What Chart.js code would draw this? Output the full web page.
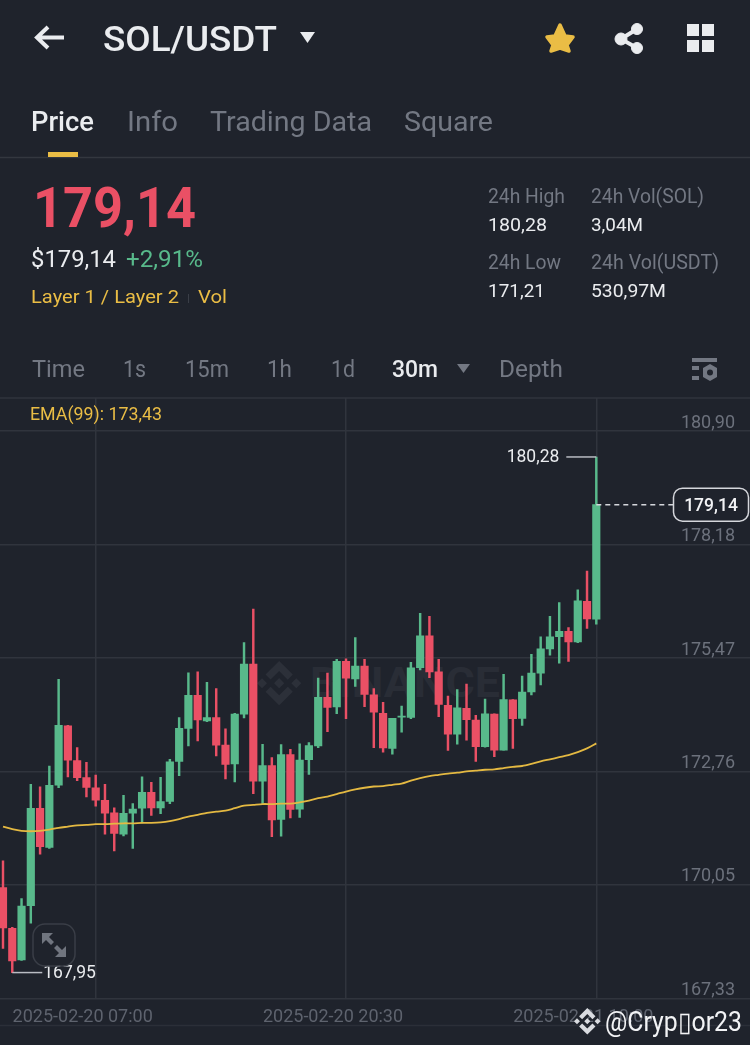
<!DOCTYPE html>
<html>
<head>
<meta charset="utf-8">
<script src="https://cdn.jsdelivr.net/npm/chart.js@4/dist/chart.umd.min.js"></script>
<style>
  html, body { margin: 0; padding: 0; background: #1f232c; }
  body { position: relative; width: 750px; height: 1045px; overflow: hidden; font-family: Roboto, sans-serif; }
  svg { position: absolute; left: 0; top: 0; }
  #grafico { position: absolute; left: 0; top: 398px; }
</style>
</head>
<body>
<!-- capa de fondo: marca de agua y lineas fijas -->
<svg width="750" height="1045">
  <line x1="0" y1="157.5" x2="750" y2="157.5" stroke="#33373f" stroke-width="1.5"/>
  <line x1="0" y1="398" x2="750" y2="398" stroke="#30343d" stroke-width="1.5"/>
  <line x1="0" y1="1025.5" x2="750" y2="1025.5" stroke="#2b2f38" stroke-width="1.5"/>
  <g transform="translate(257,661) scale(0.35)" fill="#2c3039">
    <path d="M38.73 53.2l24.59-24.58 24.6 24.6 14.3-14.31L63.32 0 24.42 38.9zM0 63.31l14.3-14.31 14.31 14.31-14.31 14.3zM38.73 73.41l24.59 24.59 24.6-24.6 14.31 14.29-38.9 38.91-38.91-38.88zM98 63.31l14.3-14.3 14.31 14.3-14.31 14.31zM77.83 63.3L63.32 48.78 52.59 59.51l-1.24 1.23-2.54 2.54 14.51 14.5 14.51-14.47z"/>
  </g>
  <text x="310" y="697" font-size="42" font-weight="700" fill="#292d36" textLength="190" lengthAdjust="spacingAndGlyphs">BINANCE</text>
</svg>

<canvas id="grafico" width="750" height="628" style="width:750px;height:628px"></canvas>

<!-- cabecero y textos de la pantalla -->
<svg width="750" height="1045" font-family="Roboto, sans-serif">
  <path d="M64 37.5H38M48 27L37 37.5 48 48" fill="none" stroke="#eaecef" stroke-width="4"/>
  <text x="103" y="51" font-size="35" font-weight="500" fill="#eaecef" textLength="174" lengthAdjust="spacingAndGlyphs">SOL/USDT</text>
  <path d="M300 32H315L307.5 43Z" fill="#eaecef"/>
  <path d="M560 25L565 36 573 37 567 45 569 51 560 48 551 51 553 45 547 37 555 36Z" fill="#eabd45" stroke="#eabd45" stroke-width="3.5" stroke-linejoin="round"/>
  <g fill="#eaecef" stroke="#eaecef">
    <circle cx="637" cy="29" r="5.5"/><circle cx="621" cy="39" r="6"/><circle cx="637" cy="48" r="5.5"/>
    <path d="M637 29L621 39 637 48" fill="none" stroke-width="4"/>
  </g>
  <g fill="#eaecef">
    <rect x="687" y="24" width="12" height="12"/><rect x="702" y="24" width="12" height="12"/>
    <rect x="687" y="40" width="12" height="12"/><rect x="702" y="40" width="12" height="12"/>
  </g>

  <g font-size="28">
    <text x="31" y="131" font-weight="500" fill="#eaecef" textLength="63" lengthAdjust="spacingAndGlyphs">Price</text>
    <text x="127" y="131" fill="#737883" textLength="51" lengthAdjust="spacingAndGlyphs">Info</text>
    <text x="210" y="131" fill="#737883" textLength="162" lengthAdjust="spacingAndGlyphs">Trading Data</text>
    <text x="404" y="131" fill="#737883" textLength="89" lengthAdjust="spacingAndGlyphs">Square</text>
  </g>
  <rect x="48" y="152" width="30" height="5" fill="#eabd45"/>

  <text x="33" y="227" font-size="55" font-weight="700" fill="#ea5065" textLength="163" lengthAdjust="spacingAndGlyphs">179,14</text>
  <text x="31" y="267" font-size="23" fill="#eaecef" textLength="85" lengthAdjust="spacingAndGlyphs">$179,14</text>
  <text x="126" y="267" font-size="23" fill="#58b98b" textLength="77" lengthAdjust="spacingAndGlyphs">+2,91%</text>
  <text x="31" y="303" font-size="19" fill="#eabd45" textLength="148" lengthAdjust="spacingAndGlyphs">Layer 1 / Layer 2</text>
  <rect x="188" y="294" width="1" height="9" fill="#3a3e47"/>
  <text x="198" y="303" font-size="19" fill="#eabd45" textLength="29" lengthAdjust="spacingAndGlyphs">Vol</text>

  <g font-size="20" fill="#737883">
    <text x="488" y="203" textLength="77" lengthAdjust="spacingAndGlyphs">24h High</text>
    <text x="591" y="203" textLength="113" lengthAdjust="spacingAndGlyphs">24h Vol(SOL)</text>
    <text x="488" y="269" textLength="73" lengthAdjust="spacingAndGlyphs">24h Low</text>
    <text x="591" y="269" textLength="128" lengthAdjust="spacingAndGlyphs">24h Vol(USDT)</text>
  </g>
  <g font-size="19" fill="#eaecef">
    <text x="488" y="231" textLength="59" lengthAdjust="spacingAndGlyphs">180,28</text>
    <text x="591" y="231" textLength="52" lengthAdjust="spacingAndGlyphs">3,04M</text>
    <text x="488" y="297" textLength="57" lengthAdjust="spacingAndGlyphs">171,21</text>
    <text x="591" y="297" textLength="75" lengthAdjust="spacingAndGlyphs">530,97M</text>
  </g>

  <g font-size="24" fill="#737883">
    <text x="32" y="377" textLength="53" lengthAdjust="spacingAndGlyphs">Time</text>
    <text x="123" y="377" textLength="23" lengthAdjust="spacingAndGlyphs">1s</text>
    <text x="185" y="377" textLength="44" lengthAdjust="spacingAndGlyphs">15m</text>
    <text x="267" y="377" textLength="25" lengthAdjust="spacingAndGlyphs">1h</text>
    <text x="331" y="377" textLength="24" lengthAdjust="spacingAndGlyphs">1d</text>
    <text x="392" y="377" font-weight="500" fill="#eaecef" textLength="46" lengthAdjust="spacingAndGlyphs">30m</text>
    <text x="499" y="377" textLength="64" lengthAdjust="spacingAndGlyphs">Depth</text>
  </g>
  <path d="M457 364H470L463.5 373Z" fill="#737883"/>
  <g fill="#737883">
    <rect x="692" y="358" width="25" height="4"/>
    <rect x="692" y="366" width="7" height="4"/>
    <rect x="692" y="376" width="7" height="4"/>
    <path d="M710 364L717 368V377L710 381 703 377V368ZM710 369.500A3 3 0 1 0 710 375.500A3 3 0 1 0 710 369.500Z" fill-rule="evenodd"/>
  </g>
  <text x="30" y="420" font-size="18" fill="#eabd45" textLength="132" lengthAdjust="spacingAndGlyphs">EMA(99): 173,43</text>

  <rect x="33" y="924" width="42" height="42" rx="12" fill="#1f232c" fill-opacity="0.7" stroke="#3a3e47" stroke-width="1.5"/>
  <g fill="#70757f">
    <path d="M42 933H53L49 937 54 942 51 945 46 940 42 944Z"/>
    <path d="M66 957H55L59 953 54 948 57 945 62 950 66 946Z"/>
  </g>

  <g transform="translate(574,1008) scale(0.21)" fill="#d9dbe0">
    <path d="M38.73 53.2l24.59-24.58 24.6 24.6 14.3-14.31L63.32 0 24.42 38.9zM0 63.31l14.3-14.31 14.31 14.31-14.31 14.3zM38.73 73.41l24.59 24.59 24.6-24.6 14.31 14.29-38.9 38.91-38.91-38.88zM98 63.31l14.3-14.3 14.31 14.3-14.31 14.31zM77.83 63.3L63.32 48.78 52.59 59.51l-1.24 1.23-2.54 2.54 14.51 14.5 14.51-14.47z"/>
  </g>
  <text x="605" y="1031" font-size="27" fill="#f2f3f5" textLength="137" lengthAdjust="spacingAndGlyphs">@Cryp▯or23</text>
</svg>

<script>
// velas de 30m
const aperturas = [169.98,169.01,168.25,169.55,171.88,170.94,172.43,173.85,173.02,172.61,172.37,172.07,171.77,171.26,171.76,171.88,172.26,171.89,172.04,173.00,173.79,174.58,173.97,174.05,173.39,172.94,174.13,175.33,172.53,172.90,171.61,173.16,171.86,173.04,173.37,174.53,174.30,175.39,174.97,175.28,174.59,174.15,173.31,174.06,174.05,175.24,176.00,175.14,174.34,173.65,174.27,173.99,173.35,174.13,173.27,174.47,174.03,174.66,175.11,175.69,175.98,176.11,175.86,176.83,176.40];
const cierres = [169.02,168.23,169.54,171.88,170.96,172.43,173.86,173.03,172.61,172.38,172.07,171.76,171.28,171.76,171.86,172.26,171.89,172.04,172.99,173.79,174.58,173.99,174.05,173.39,172.93,174.13,175.33,172.53,172.90,171.60,173.16,171.85,173.03,173.38,174.53,174.29,175.39,174.99,175.28,174.60,174.18,173.32,174.03,174.08,175.24,176.00,175.14,174.36,173.65,174.28,174.00,173.35,174.14,173.27,174.48,174.02,174.66,175.11,175.69,175.98,176.11,175.86,176.84,176.41,179.14];
const maximos = [170.62,169.03,169.72,172.45,172.39,172.89,174.96,173.86,173.33,172.98,172.67,172.45,171.89,172.19,171.99,172.63,172.50,172.62,173.05,174.05,175.12,175.14,174.89,174.74,173.78,174.15,175.84,176.64,173.41,173.09,173.40,173.29,173.42,173.45,174.99,175.11,175.44,175.45,175.96,175.44,174.74,174.41,174.03,174.32,175.37,176.54,176.47,175.44,174.56,174.72,174.85,174.10,174.49,174.14,175.08,174.48,175.04,175.56,175.98,176.47,176.80,176.20,177.10,177.55,180.28];
const minimos = [168.53,167.95,168.24,169.13,170.78,170.92,172.37,172.63,172.54,172.15,171.93,171.26,170.86,171.22,170.92,171.53,171.71,171.75,171.99,172.66,173.37,173.49,173.95,173.13,172.58,172.51,174.04,172.23,171.99,171.20,171.21,171.65,171.66,172.69,173.33,173.71,174.14,174.02,174.79,174.31,173.33,173.22,173.17,173.70,174.02,175.19,175.00,174.07,173.26,173.41,173.51,173.00,173.34,173.11,173.27,173.31,173.86,174.59,174.83,175.54,175.35,175.39,175.84,176.18,176.28];
const ema99 = [171.44,171.38,171.34,171.33,171.34,171.37,171.41,171.44,171.47,171.48,171.50,171.50,171.51,171.52,171.52,171.53,171.53,171.54,171.57,171.62,171.68,171.72,171.77,171.80,171.82,171.88,171.94,171.96,171.98,171.98,171.99,171.99,172.02,172.06,172.12,172.16,172.22,172.28,172.33,172.37,172.40,172.41,172.44,172.47,172.54,172.60,172.65,172.68,172.71,172.73,172.76,172.78,172.80,172.81,172.84,172.87,172.89,172.94,173.00,173.05,173.10,173.15,173.22,173.31,173.43];

const preciosEje = [180.90,178.18,175.47,172.76,170.05,167.33];
const velasEje = [10,37,64];
const fechasEje = ["2025-02-20 07:00","2025-02-20 20:30","2025-02-21 10:00"];

const verde = "#58b98b";
const rojo = "#ea5065";
const colorGrid = "#30343d";
const colorVela = aperturas.map((a, i) => cierres[i] >= a ? verde : rojo);

const formatoPrecio = (valor) => valor.toFixed(2).replace(".", ",");

// sin esto Chart.js reserva margen para las etiquetas de los extremos
const sinMargen = (eje) => {
    eje.paddingTop = 0;
    eje.paddingBottom = 0;
    eje.paddingLeft = 0;
    eje.paddingRight = 0;
};

// etiquetas de maximo, minimo y ultimo precio
const marcasPrecio = {
    id: "marcasPrecio",
    afterDatasetsDraw(chart) {
        let ctx = chart.ctx;
        let x = chart.scales.x;
        let y = chart.scales.y;
        let indiceMax = maximos.indexOf(Math.max(...maximos));
        let indiceMin = minimos.indexOf(Math.min(...minimos));
        let ultimo = cierres.length - 1;

        ctx.save();
        ctx.font = "17.5px Roboto";
        ctx.textBaseline = "middle";
        ctx.strokeStyle = "#b9bcc3";
        ctx.fillStyle = "#eaecef";
        ctx.lineWidth = 1.5;

        let yMax = y.getPixelForValue(maximos[indiceMax]);
        ctx.beginPath();
        ctx.moveTo(x.getPixelForValue(indiceMax), yMax);
        ctx.lineTo(x.getPixelForValue(indiceMax) - 30, yMax);
        ctx.stroke();
        ctx.textAlign = "right";
        ctx.fillText(formatoPrecio(maximos[indiceMax]), x.getPixelForValue(indiceMax) - 37, yMax + 1);

        let yMin = y.getPixelForValue(minimos[indiceMin]);
        ctx.beginPath();
        ctx.moveTo(x.getPixelForValue(indiceMin), yMin);
        ctx.lineTo(x.getPixelForValue(indiceMin) + 30, yMin);
        ctx.stroke();
        ctx.textAlign = "left";
        ctx.fillText(formatoPrecio(minimos[indiceMin]), x.getPixelForValue(indiceMin) + 31, yMin + 1);

        let yUltimo = y.getPixelForValue(cierres[ultimo]);
        ctx.setLineDash([5, 4]);
        ctx.strokeStyle = "#d5d7dc";
        ctx.beginPath();
        ctx.moveTo(x.getPixelForValue(ultimo), yUltimo);
        ctx.lineTo(673, yUltimo);
        ctx.stroke();
        ctx.setLineDash([]);

        ctx.fillStyle = "#1f232c";
        ctx.beginPath();
        ctx.roundRect(673.5, yUltimo - 16.5, 75, 33, 9);
        ctx.fill();
        ctx.stroke();
        ctx.fillStyle = "#f2f3f5";
        ctx.textAlign = "center";
        ctx.font = "500 17.5px Roboto";
        ctx.fillText(formatoPrecio(cierres[ultimo]), 711, yUltimo + 2);
        ctx.restore();
    }
};

let generarGrafico = () => {
    Chart.defaults.font.family = "Roboto";
    let contexto = document.getElementById("grafico").getContext("2d");
    new Chart(contexto, {
        type: "bar",
        data: {
            datasets: [
                {
                    type: "line",
                    label: "EMA(99)",
                    data: ema99.map((v, i) => ({ x: i, y: v })),
                    borderColor: "#e4b942",
                    borderWidth: 1.8,
                    pointRadius: 0,
                    tension: 0.3,
                    order: 0,
                },
                {
                    label: "Cuerpo",
                    data: aperturas.map((a, i) => ({ x: i, y: [a, cierres[i]] })),
                    backgroundColor: colorVela,
                    barThickness: 7.5,
                    grouped: false,
                    minBarLength: 1,
                    order: 1,
                },
                {
                    label: "Mecha",
                    data: minimos.map((m, i) => ({ x: i, y: [m, maximos[i]] })),
                    backgroundColor: colorVela,
                    barThickness: 1.8,
                    grouped: false,
                    order: 2,
                },
            ],
        },
        options: {
            responsive: false,
            animation: false,
            layout: { padding: 0 },
            plugins: { legend: { display: false }, tooltip: { enabled: false } },
            scales: {
                x: {
                    type: "linear",
                    offset: false,
                    min: -0.3236,
                    max: 80.58,
                    afterBuildTicks: (eje) => { eje.ticks = velasEje.map(v => ({ value: v })); },
                    afterFit: (eje) => { eje.height = 27.5; sinMargen(eje); },
                    grid: { color: colorGrid, lineWidth: 1.5, drawTicks: false, offset: false },
                    border: { display: false },
                    ticks: {
                        color: "#5e636e",
                        font: { size: 18 },
                        autoSkip: false,
                        maxRotation: 0,
                        padding: 8,
                        labelOffset: -13,
                        callback: (valor) => fechasEje[velasEje.indexOf(valor)],
                    },
                },
                y: {
                    position: "right",
                    min: 167.33,
                    max: 181.69,
                    afterBuildTicks: (eje) => { eje.ticks = preciosEje.map(v => ({ value: v })); },
                    afterFit: (eje) => { eje.width = 0; sinMargen(eje); },
                    grid: { color: colorGrid, lineWidth: 1.5, drawTicks: false },
                    border: { display: false },
                    ticks: {
                        color: "#6c717c",
                        font: { size: 18 },
                        mirror: true,
                        padding: -15,
                        labelOffset: -8,
                        callback: (valor) => formatoPrecio(valor),
                    },
                },
            },
        },
        plugins: [marcasPrecio],
    });
};

generarGrafico();
</script>
</body>
</html>
